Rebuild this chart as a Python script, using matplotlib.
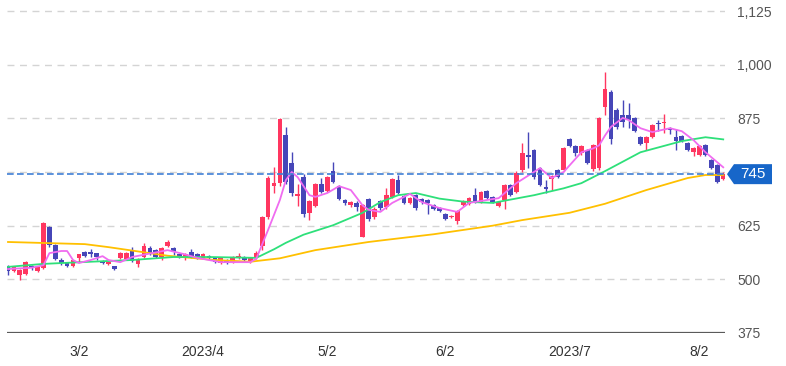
import matplotlib
matplotlib.use('Agg')
import matplotlib.pyplot as plt
import matplotlib.transforms as mtransforms
from matplotlib.patches import Polygon
import numpy as np

# daily candles (oldest first)
opens = [530, 520, 510, 512, 530, 520, 526, 622, 580, 545, 540, 530,
         550, 564, 564, 561, 543, 536, 531, 550, 548, 566, 536, 552,
         573, 568, 552, 578, 573, 559, 550, 564, 559, 550, 554, 550,
         538, 545, 540, 550, 552, 540, 552, 578, 645, 717, 724, 836,
         771, 694, 738, 654, 671, 722, 706, 752, 717, 685, 673, 678,
         599, 687, 645, 682, 668, 692, 731, 694, 678, 696, 687, 684,
         673, 666, 652, 645, 636, 673, 675, 696, 680, 705, 692, 671,
         685, 720, 703, 755, 790, 801, 759, 715, 734, 755, 755, 827,
         811, 794, 801, 757, 760, 901, 936, 894, 882, 882, 876, 831,
         817, 831, 864, 864, 852, 831, 834, 817, 796, 789, 813, 778,
         766, 733]
highs = [533, 531, 524, 542, 534, 531, 633, 625, 582, 550, 541, 546,
         560, 566, 571, 562, 546, 541, 532, 563, 563, 575, 549, 585,
         578, 570, 575, 592, 575, 561, 561, 571, 561, 561, 557, 552,
         552, 547, 555, 561, 554, 552, 565, 647, 740, 762, 875, 855,
         796, 722, 745, 685, 724, 736, 740, 773, 720, 688, 682, 682,
         675, 690, 668, 685, 712, 736, 742, 697, 692, 699, 690, 687,
         676, 668, 654, 650, 662, 684, 692, 712, 706, 708, 694, 683,
         722, 722, 752, 817, 843, 803, 762, 731, 744, 757, 808, 830,
         813, 813, 803, 815, 878, 983, 940, 898, 917, 910, 878, 834,
         834, 862, 871, 885, 854, 850, 836, 819, 808, 812, 815, 780,
         768, 750]
lows = [510, 518, 499, 510, 522, 518, 524, 575, 545, 533, 528, 528,
        541, 552, 552, 545, 536, 534, 522, 548, 545, 541, 529, 550,
        557, 550, 545, 575, 557, 550, 545, 550, 548, 548, 548, 538,
        536, 536, 538, 548, 543, 538, 548, 568, 640, 701, 718, 722,
        695, 671, 645, 638, 668, 700, 704, 725, 685, 672, 668, 660,
        598, 636, 640, 662, 664, 690, 698, 675, 675, 662, 676, 652,
        662, 657, 638, 643, 628, 670, 672, 678, 678, 686, 678, 668,
        664, 694, 700, 750, 759, 733, 717, 701, 708, 735, 752, 808,
        787, 790, 768, 752, 755, 883, 815, 850, 855, 852, 843, 812,
        801, 829, 846, 841, 838, 801, 820, 799, 787, 787, 787, 757,
        724, 731]
closes = [520, 529, 521, 540, 526, 529, 631, 580, 547, 538, 530, 545,
          559, 554, 559, 552, 538, 540, 524, 561, 561, 543, 547, 578,
          559, 552, 573, 587, 564, 552, 559, 552, 550, 559, 550, 540,
          550, 540, 552, 554, 545, 550, 561, 645, 736, 724, 873, 727,
          701, 699, 652, 682, 722, 703, 738, 727, 687, 678, 680, 668,
          673, 640, 664, 666, 696, 734, 701, 678, 689, 666, 680, 678,
          664, 659, 640, 648, 660, 680, 689, 680, 703, 689, 680, 680,
          720, 696, 748, 794, 785, 738, 720, 710, 741, 738, 806, 811,
          794, 811, 771, 813, 876, 944, 826, 855, 866, 871, 845, 815,
          831, 859, 862, 866, 848, 822, 822, 801, 806, 810, 789, 759,
          727, 745]

# moving averages: candle index -> value
ma_short_idx = [0, 4, 6, 7, 9, 10, 11, 12, 14, 16, 17, 19, 21, 24, 27, 30,
                32, 36, 41, 42, 44, 46, 47, 48, 49, 51, 52, 54, 56, 58, 60,
                61, 63, 65, 68, 70, 73, 76, 78, 82, 83, 86, 90, 92, 94, 97,
                99, 100, 101, 102, 104, 105, 107, 109, 112, 114, 116, 118, 121]
ma_short = [524, 527, 533, 561, 566, 566, 545, 538, 545, 554, 545, 540, 552,
            560, 568, 558, 550, 540, 540, 548, 615, 685, 731, 750, 738, 696,
            692, 701, 717, 708, 672, 662, 657, 678, 699, 680, 666, 657, 678,
            687, 689, 724, 759, 736, 750, 796, 805, 812, 835, 855, 876, 871,
            852, 843, 852, 845, 824, 796, 761]

ma_mid_idx = [0, 6, 14, 21, 28, 34, 42, 45, 47, 50, 55, 60, 63, 66, 69, 73,
              77, 82, 89, 94, 97, 101, 107, 114, 118, 121]
ma_mid = [529, 536, 541, 545, 552, 552, 550, 570, 585, 604, 626, 655, 680,
          696, 701, 688, 681, 678, 696, 712, 724, 752, 796, 822, 831, 826]

ma_long_idx = [0, 13, 17, 27, 35, 41, 46, 52, 61, 64, 72, 82, 87, 95, 101,
               108, 115, 118, 121]
ma_long = [587, 582, 575, 555, 545, 541, 549, 568, 587, 592, 605, 625, 638,
           655, 676, 708, 736, 743, 743]

tick_pos = [12, 33, 54, 74, 95, 117]
tick_labels = ['3/2', '2023/4', '5/2', '6/2', '2023/7', '8/2']

y_ticks = [375, 500, 625, 750, 875, 1000, 1125]
y_labels = ['375', '500', '625', '', '875', '1,000', '1,125']
last_price = 745

RED = '#ff3660'
BLUE = '#4646b8'

plt.rcParams['font.family'] = ['Liberation Sans', 'DejaVu Sans']

W, H = 786, 366
fig = plt.figure(figsize=(W / 100, H / 100), dpi=100)
ax = fig.add_axes([7 / W, 33 / H, 718 / W, 328 / H])

o = np.array(opens)
hi = np.array(highs)
lo = np.array(lows)
c = np.array(closes)
x = np.arange(len(o))
col = np.where(c >= o, RED, BLUE)

ax.vlines(x, lo, hi, colors=col, lw=1.0, zorder=2)
ax.bar(x, np.maximum(np.abs(c - o), 1.8), bottom=np.minimum(o, c),
       width=0.8, color=col, linewidth=0, zorder=3)

ax.plot(ma_long_idx, ma_long, color='#ffc000', lw=1.3, zorder=4)
ax.plot(ma_mid_idx, ma_mid, color='#2ee07a', lw=1.3, zorder=4)
ax.plot(ma_short_idx, ma_short, color='#f06cf0', lw=1.3, zorder=5)

ax.axhline(last_price, color='#3f7fd6', lw=1.2, ls=(0, (4, 2)), zorder=6)
ax.axhline(375, color='#5a5a5a', lw=1.6, zorder=6)

ax.set_xlim(-0.17, len(o) - 1 + 0.3)
ax.set_ylim(375, 1139)

ax.set_yticks(y_ticks)
ax.set_yticklabels(y_labels)
ax.yaxis.tick_right()
ax.tick_params(axis='y', length=0, pad=9, labelsize=10, labelcolor='#555555')
ax.set_xticks(tick_pos)
ax.set_xticklabels(tick_labels)
ax.tick_params(axis='x', length=0, pad=9, labelsize=10, labelcolor='#333333')
ax.grid(axis='y', color='#d4d4d4', ls=(0, (5, 4)), lw=1)
ax.set_axisbelow(True)
for s in ax.spines.values():
    s.set_visible(False)

# price tag on the right
blend = mtransforms.blended_transform_factory(fig.transFigure, ax.transData)
half = 10 / (328 / (1139 - 375))
tag = Polygon([(727 / W, last_price), (734 / W, last_price + half),
               (772 / W, last_price + half), (772 / W, last_price - half),
               (734 / W, last_price - half)],
              closed=True, transform=blend, facecolor='#1766c9',
              edgecolor='none', clip_on=False)
fig.add_artist(tag)
fig.text(753 / W, last_price, str(last_price), transform=blend, color='white',
         fontsize=11, ha='center', va='center')

fig.savefig('out.png', dpi=100)
